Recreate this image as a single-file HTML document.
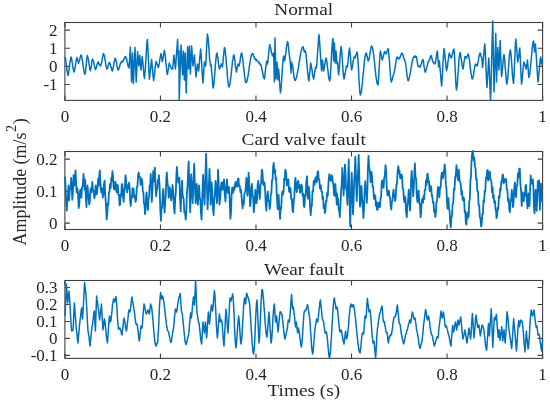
<!DOCTYPE html><html><head><meta charset="utf-8"><title>Signals</title><style>html,body{margin:0;padding:0;background:#fff}svg{display:block}text{font-family:"Liberation Serif","Times New Roman",serif;fill:#262626}</style></head><body>
<svg width="550" height="403" viewBox="0 0 550 403">
<rect width="550" height="403" fill="#fff"/>
<defs><filter id="soft" x="0" y="0" width="100%" height="100%" filterUnits="userSpaceOnUse" color-interpolation-filters="sRGB"><feGaussianBlur stdDeviation="0.35"/></filter></defs><g filter="url(#soft)">
<rect x="64.9" y="22.5" width="477.70000000000005" height="77.9" fill="none" stroke="#404040" stroke-width="1.1"/>
<path d="M64.90,100.4v-5M64.90,22.5v5M160.44,100.4v-5M160.44,22.5v5M255.98,100.4v-5M255.98,22.5v5M351.52,100.4v-5M351.52,22.5v5M447.06,100.4v-5M447.06,22.5v5M542.60,100.4v-5M542.60,22.5v5M64.9,30.1h5M542.6,30.1h-5M64.9,48.2h5M542.6,48.2h-5M64.9,66.4h5M542.6,66.4h-5M64.9,84.5h5M542.6,84.5h-5" stroke="#404040" stroke-width="1.1" fill="none"/>
<polyline points="65.0,57.0 65.5,58.6 66.0,62.7 66.5,65.6 67.0,70.6 67.5,73.1 68.0,75.4 68.5,74.0 69.0,69.8 69.5,66.8 70.0,61.8 70.5,59.1 71.0,57.0 71.5,57.9 72.0,61.6 72.5,63.9 73.0,68.1 73.5,70.1 74.0,72.0 74.5,71.1 75.0,67.7 75.5,65.5 76.0,60.9 76.5,59.3 77.0,57.6 77.5,59.3 78.1,62.0 78.6,63.4 79.1,61.4 79.6,60.6 80.0,57.9 80.5,56.7 81.0,55.0 81.5,55.7 82.0,58.4 82.5,60.7 83.0,65.2 83.5,68.0 84.0,71.7 84.5,73.2 85.0,74.4 85.5,71.8 86.0,66.9 86.4,62.8 86.9,57.8 87.4,55.4 87.9,57.4 88.4,59.1 88.9,63.3 89.4,65.7 89.9,69.7 90.4,70.6 91.0,67.8 91.5,65.2 92.0,61.0 92.6,59.0 93.1,60.6 93.6,61.2 94.1,64.6 94.6,65.9 95.1,68.9 95.6,69.4 96.1,67.9 96.6,67.1 97.0,64.2 97.5,63.8 98.0,62.0 98.5,62.1 99.0,64.0 99.6,64.3 100.1,65.7 100.6,66.0 101.1,64.2 101.6,63.0 102.1,59.5 102.6,57.5 103.1,54.3 103.6,53.6 104.1,55.1 104.6,56.3 105.1,60.1 105.5,62.5 106.0,66.5 106.5,67.6 107.0,69.0 107.5,68.4 108.0,66.1 108.4,65.1 108.9,63.2 109.4,62.4 109.9,63.8 110.4,64.1 110.9,67.2 111.4,68.2 111.9,70.4 112.4,71.0 112.9,68.7 113.4,67.0 114.0,62.5 114.5,60.7 115.0,58.4 115.5,58.5 116.0,61.1 116.5,62.5 116.9,66.1 117.4,67.2 117.9,69.7 118.4,70.0 118.9,68.5 119.4,67.6 120.0,64.6 120.5,63.7 121.0,62.4 121.5,61.5 121.9,62.5 122.4,61.6 122.9,60.5 123.5,60.8 124.0,58.5 124.5,58.4 125.1,56.6 125.6,56.6 126.1,57.7 126.6,58.7 127.1,61.7 127.5,63.0 128.0,66.0 128.5,66.8 129.0,68.0 129.5,61.4 129.9,53.6 130.4,47.0 131.0,64.9 131.6,82.0 132.1,67.0 132.6,53.0 133.0,68.7 133.4,83.4 133.9,71.1 134.5,59.8 135.0,47.6 135.6,64.6 136.2,82.0 136.7,72.1 137.1,61.3 137.6,51.4 138.2,59.2 138.8,66.0 139.3,60.1 139.8,55.4 140.4,63.3 141.0,70.0 141.6,62.7 142.2,56.6 142.8,61.9 143.3,67.2 143.8,74.3 144.4,78.4 144.9,74.0 145.4,67.8 145.9,58.7 146.4,50.4 146.9,42.7 147.4,39.4 147.9,48.8 148.4,59.1 148.9,70.8 149.4,79.4 149.9,74.7 150.5,69.6 151.1,63.5 151.6,59.4 152.1,64.7 152.6,69.7 153.1,76.1 153.6,80.6 154.1,77.0 154.6,73.9 155.0,68.4 155.5,65.0 156.0,61.6 156.5,62.3 157.0,64.2 157.4,64.8 157.9,66.8 158.4,67.4 158.9,65.1 159.4,62.9 160.0,58.3 160.5,56.0 161.0,53.6 161.5,55.8 161.9,59.5 162.4,61.6 162.9,58.8 163.4,56.2 163.9,52.7 164.4,50.4 164.9,53.3 165.4,56.8 165.9,63.0 166.4,67.2 166.9,72.5 167.4,74.4 167.9,71.5 168.4,69.4 168.9,65.0 169.4,63.0 169.9,65.1 170.5,66.0 171.0,68.0 171.5,68.9 172.1,68.3 172.6,69.0 173.1,64.8 173.5,59.3 174.0,55.0 174.5,60.2 174.9,64.1 175.4,69.0 175.9,62.9 176.5,53.5 177.1,46.5 177.6,39.4 178.1,52.8 178.6,67.0 179.0,51.0 179.2,100.0 179.6,87.6 180.1,72.1 180.6,58.7 181.0,45.0 181.5,54.3 182.1,65.5 182.6,75.0 183.0,62.7 183.4,51.0 183.9,65.7 184.4,80.0 184.8,65.9 185.2,53.0 185.7,73.2 186.2,93.0 186.7,77.1 187.1,63.0 187.6,47.0 188.1,57.5 188.6,69.0 189.0,57.8 189.4,46.0 189.9,59.4 190.4,74.0 191.0,60.7 191.6,46.0 192.1,52.1 192.5,59.8 193.0,66.0 193.5,61.9 193.9,59.0 194.4,55.0 194.9,61.9 195.5,70.3 196.0,77.0 196.5,72.2 196.9,68.6 197.4,64.0 198.0,67.2 198.6,71.0 199.1,66.5 199.6,59.6 200.1,54.4 200.6,49.0 201.1,54.0 201.6,62.5 202.0,69.5 202.5,77.9 203.0,83.0 203.5,75.7 203.9,69.4 204.4,62.0 205.0,63.3 205.6,66.0 206.1,59.0 206.5,49.6 206.9,41.9 207.4,34.0 207.9,36.4 208.5,43.2 209.0,49.3 209.5,57.8 210.1,62.5 210.6,66.0 211.2,65.0 211.6,71.0 212.1,76.1 212.6,83.3 213.0,88.0 213.5,86.0 214.0,83.1 214.5,76.7 215.0,70.8 215.5,63.4 216.0,58.8 216.5,54.1 217.0,53.0 217.5,56.0 218.0,58.4 218.4,63.3 218.9,66.1 219.4,69.0 219.9,68.2 220.4,65.9 220.9,65.6 221.4,64.0 221.9,64.8 222.4,67.0 222.9,63.2 223.4,56.9 223.9,52.3 224.4,47.4 224.9,48.7 225.4,52.7 225.9,57.4 226.4,64.5 227.0,69.9 227.5,77.4 228.0,81.6 228.5,86.0 229.0,87.0 229.5,85.4 230.0,84.0 230.5,79.6 231.0,76.1 231.5,70.7 232.0,66.6 232.5,61.2 233.0,58.9 233.5,55.4 234.0,55.0 234.5,58.1 235.0,61.1 235.4,66.2 235.9,68.7 236.4,72.0 236.9,69.6 237.5,66.1 238.0,64.0 238.5,65.3 239.0,66.0 239.5,63.7 240.0,61.7 240.4,57.7 240.9,55.4 241.4,53.0 241.9,53.4 242.4,57.2 242.9,60.4 243.4,65.6 244.0,69.9 244.5,75.5 245.0,78.6 245.5,82.1 246.0,82.6 246.5,81.6 247.0,81.3 247.5,78.0 248.0,76.4 248.5,72.7 249.0,70.1 249.4,66.0 249.9,63.5 250.4,59.7 250.9,57.6 251.4,54.7 251.9,54.4 252.4,53.4 252.9,53.7 253.4,55.9 254.0,56.5 254.5,58.4 255.0,59.0 255.5,58.7 256.0,60.5 256.5,59.6 257.0,60.6 257.5,61.3 258.1,61.2 258.6,62.0 259.1,63.2 259.6,62.8 260.1,64.8 260.6,65.0 261.1,65.1 261.6,67.7 262.0,69.1 262.5,72.5 263.0,74.2 263.4,77.1 263.9,78.1 264.4,79.0 264.9,75.4 265.5,69.3 266.1,65.3 266.6,61.0 267.0,62.0 267.4,64.0 267.9,61.5 268.4,56.0 268.8,52.3 269.3,47.3 269.8,44.6 270.3,46.7 270.8,48.5 271.4,52.4 271.9,53.7 272.4,56.0 273.0,54.9 273.6,53.0 274.0,67.1 274.4,82.0 275.0,38.0 275.5,59.0 276.0,79.0 276.5,70.0 277.0,62.0 277.5,71.5 278.0,80.0 278.6,69.0 279.1,74.3 279.5,81.2 279.9,87.0 280.4,93.0 280.9,89.9 281.5,82.5 282.0,74.7 282.5,65.7 283.1,59.9 283.6,56.0 284.0,58.1 284.4,61.0 284.9,59.8 285.5,55.3 286.0,51.9 286.5,46.5 287.1,43.8 287.6,41.6 288.1,43.7 288.6,48.4 289.0,51.7 289.5,56.6 290.0,59.0 290.5,65.4 291.0,73.0 291.6,62.0 292.1,63.9 292.6,65.2 293.1,69.7 293.5,73.0 294.0,77.3 294.5,78.8 295.0,80.6 295.5,80.4 296.0,78.4 296.5,77.7 297.0,74.6 297.5,73.0 298.0,69.5 298.5,67.4 299.0,63.0 299.5,61.1 300.0,56.7 300.5,55.0 301.0,51.4 301.5,50.1 302.0,47.8 302.5,47.4 303.0,46.6 303.5,47.8 303.9,50.7 304.4,52.0 304.8,51.0 305.2,50.6 305.7,52.3 306.1,54.7 306.6,60.8 307.1,65.3 307.6,71.9 308.1,75.6 308.5,80.0 309.0,81.0 309.5,74.7 310.1,69.3 310.6,63.0 311.1,64.3 311.6,67.7 312.1,70.5 312.6,75.0 313.1,76.9 313.6,79.0 314.1,76.5 314.6,72.6 315.1,70.0 315.6,67.0 316.0,67.2 316.4,68.0 316.9,63.4 317.4,54.9 318.0,47.5 318.5,39.1 319.0,34.6 319.5,40.5 320.0,47.9 320.6,57.6 321.1,65.1 321.6,71.0 322.0,66.0 322.4,60.0 323.0,65.0 323.6,71.0 324.1,69.4 324.6,65.5 325.0,63.5 325.5,59.7 326.0,58.0 326.5,59.8 327.0,62.1 327.5,67.4 328.1,71.6 328.6,76.9 329.1,79.0 329.6,81.0 330.1,79.0 330.6,72.1 331.1,64.8 331.5,55.1 332.0,47.4 332.5,40.8 333.0,38.6 333.6,61.0 334.0,52.6 334.4,43.0 334.8,52.7 335.2,63.0 335.6,57.6 336.0,51.0 336.5,56.9 337.0,64.0 337.6,62.0 338.1,68.9 338.6,75.0 339.1,70.0 339.6,64.9 340.0,56.9 340.5,51.6 341.0,46.6 341.5,49.2 342.0,56.1 342.5,62.2 343.0,70.7 343.5,75.1 344.0,79.0 344.5,77.6 345.0,73.9 345.6,71.2 346.1,67.6 346.6,66.0 347.2,67.0 347.7,64.5 348.2,59.2 348.6,55.4 349.1,50.5 349.6,48.0 350.1,53.5 350.6,58.6 351.1,65.5 351.6,70.0 352.1,67.7 352.6,65.7 353.0,61.7 353.5,59.7 354.0,57.0 354.5,56.9 355.0,58.0 355.5,57.2 356.0,54.7 356.5,54.0 357.0,52.0 357.5,54.0 358.0,61.0 358.5,68.4 358.9,78.7 359.4,85.8 359.9,92.8 360.4,95.0 360.9,93.4 361.4,91.9 361.9,86.6 362.4,82.8 362.9,76.3 363.5,71.5 364.0,65.3 364.5,61.0 365.0,56.5 365.5,54.8 366.0,53.0 366.5,53.6 367.0,56.3 367.4,57.5 367.9,60.1 368.4,61.0 368.9,59.4 369.5,57.3 370.0,53.2 370.5,50.6 371.1,47.1 371.6,46.0 372.1,47.1 372.6,48.2 373.1,51.5 373.6,54.3 374.1,59.3 374.6,62.6 375.0,68.1 375.5,71.8 376.0,76.7 376.5,79.3 377.0,82.9 377.5,83.9 378.0,85.0 378.5,80.2 379.0,71.6 379.4,64.5 379.9,55.7 380.4,51.0 380.9,53.5 381.4,55.0 381.9,58.6 382.4,60.0 382.9,57.5 383.5,56.2 384.1,52.9 384.6,51.4 385.1,52.6 385.5,52.9 386.0,54.0 386.5,53.4 387.0,51.0 387.5,50.4 388.0,48.6 388.5,50.2 389.0,56.0 389.5,61.2 389.9,69.5 390.4,75.0 390.9,80.3 391.4,82.0 391.9,80.2 392.4,79.0 393.0,75.9 393.5,74.7 394.0,73.0 394.5,70.9 395.0,68.8 395.5,64.6 396.0,61.9 396.5,58.2 397.0,57.0 397.5,57.9 398.0,57.4 398.5,59.1 399.0,59.0 399.5,58.0 400.0,57.9 400.5,55.6 401.0,55.0 401.5,53.4 402.0,53.0 402.5,54.1 403.0,54.7 403.5,57.6 404.0,58.2 404.5,60.7 405.0,61.0 405.5,62.3 406.0,66.9 406.5,70.2 407.0,75.6 407.5,78.1 408.0,80.6 408.5,80.7 409.0,78.4 409.5,77.1 410.0,73.9 410.5,72.1 411.0,68.2 411.5,65.8 412.0,62.4 412.5,60.8 413.0,58.0 413.5,57.8 414.0,56.6 414.5,56.1 415.0,57.2 415.4,56.0 415.9,57.2 416.4,56.6 416.9,59.2 417.5,63.5 418.0,66.0 418.5,65.7 419.0,67.0 419.5,66.3 420.0,67.0 420.5,66.7 421.0,64.4 421.5,63.7 422.0,60.8 422.5,60.7 423.0,59.4 423.5,61.6 424.0,66.3 424.5,68.5 425.0,72.0 425.5,72.0 426.0,69.9 426.5,68.9 427.0,65.9 427.5,65.1 428.0,62.2 428.5,61.8 429.0,61.0 429.5,59.1 430.0,58.6 430.5,56.2 431.0,55.4 431.5,57.1 432.0,58.2 432.5,61.1 433.0,62.0 433.5,62.0 434.0,63.4 434.5,63.0 435.0,64.0 435.5,62.2 436.0,58.6 436.4,56.6 436.9,52.5 437.4,51.0 438.0,59.4 438.6,67.0 439.0,63.5 439.4,61.0 439.9,66.9 440.5,73.2 441.1,80.9 441.6,86.0 442.1,79.5 442.6,72.2 443.0,62.5 443.5,55.1 444.0,48.6 444.5,51.4 445.0,57.2 445.6,61.9 446.1,67.9 446.6,70.6 447.1,68.4 447.5,66.1 448.0,61.2 448.5,58.6 448.9,54.6 449.4,53.0 449.9,55.2 450.5,56.0 451.0,58.0 451.5,57.6 452.0,55.2 452.5,54.1 453.0,50.9 453.5,50.3 454.0,49.0 454.5,55.1 455.0,65.2 455.4,73.9 455.9,84.2 456.4,90.0 456.9,87.6 457.4,83.2 457.9,74.8 458.5,67.7 459.0,59.6 459.5,55.4 460.0,52.6 460.5,53.6 461.0,57.4 461.5,60.3 462.0,64.7 462.5,66.7 463.0,69.0 463.5,66.6 464.0,62.1 464.5,60.0 465.0,56.6 465.5,56.6 466.1,57.9 466.6,58.0 467.1,56.2 467.5,55.6 468.0,54.0 468.5,54.7 469.0,57.7 469.5,60.1 470.0,65.0 470.4,68.3 470.9,73.1 471.4,75.3 471.9,78.4 472.4,79.0 472.9,77.4 473.5,75.4 474.0,71.0 474.5,68.3 475.1,65.1 475.6,64.0 476.1,64.9 476.5,64.8 477.0,66.0 477.5,65.4 478.0,62.1 478.5,59.7 479.0,56.0 479.5,54.9 480.0,53.0 480.5,53.7 481.0,56.5 481.5,57.3 482.0,59.0 482.5,67.5 483.0,64.3 483.4,58.3 483.9,53.5 484.3,47.6 484.8,44.0 485.4,53.9 485.9,65.3 486.4,78.4 487.0,87.5 487.4,80.2 487.9,73.1 488.4,64.4 488.8,58.0 489.4,72.3 489.9,86.2 490.5,100.5 491.0,87.9 491.4,69.7 491.9,51.6 492.3,33.4 492.8,21.0 493.4,57.2 494.0,92.0 494.4,77.5 494.9,63.0 495.4,46.7 495.8,33.5 496.5,82.0 496.9,71.1 497.4,58.6 497.8,47.5 498.4,59.1 499.0,70.0 499.6,54.8 500.2,40.5 500.6,53.2 501.1,64.1 501.5,76.5 502.0,73.8 502.5,67.7 503.0,63.0 503.5,57.2 504.0,54.5 504.5,57.9 504.9,62.6 505.4,69.8 505.9,75.4 506.3,81.2 506.8,84.0 507.3,81.7 507.8,77.7 508.3,70.0 508.8,64.0 509.3,56.5 509.8,52.2 510.3,50.0 510.8,52.4 511.4,59.3 511.9,66.4 512.4,74.7 513.0,80.2 513.5,83.5 514.0,76.5 514.4,66.1 514.9,56.5 515.3,45.7 515.8,39.0 516.3,44.8 516.8,50.0 517.3,57.2 517.8,62.0 518.3,58.3 518.8,55.7 519.3,50.6 519.8,48.0 520.4,60.1 520.9,72.0 521.5,84.0 522.0,81.3 522.5,75.2 523.0,70.6 523.5,64.9 524.0,62.0 524.5,64.0 525.1,65.0 525.7,67.7 526.2,69.0 526.6,65.6 527.1,63.4 527.5,60.0 527.9,65.5 528.4,72.3 528.8,77.5 529.3,75.9 529.8,74.2 530.2,69.1 530.7,65.3 531.2,58.7 531.7,54.4 532.2,48.5 532.6,45.6 533.1,41.9 533.6,41.0 534.1,47.2 534.6,52.0 535.0,47.4 535.4,44.0 535.9,50.3 536.4,57.9 537.0,68.1 537.5,75.8 538.0,82.0 538.5,78.7 539.0,72.3 539.6,67.0 540.1,60.5 540.6,57.0 541.1,61.0 541.6,64.0 542.0,61.1 542.4,59.0" fill="none" stroke="#0072bd" stroke-width="1.5" stroke-linejoin="round"/>
<text x="64.9" y="122.0" font-size="17" text-anchor="middle">0</text>
<text x="160.4" y="122.0" font-size="17" text-anchor="middle">0.2</text>
<text x="256.0" y="122.0" font-size="17" text-anchor="middle">0.4</text>
<text x="351.5" y="122.0" font-size="17" text-anchor="middle">0.6</text>
<text x="447.1" y="122.0" font-size="17" text-anchor="middle">0.8</text>
<text x="542.6" y="122.0" font-size="17" text-anchor="middle">1</text>
<text x="57.6" y="35.9" font-size="17" text-anchor="end">2</text>
<text x="57.6" y="54.0" font-size="17" text-anchor="end">1</text>
<text x="57.6" y="72.2" font-size="17" text-anchor="end">0</text>
<text x="57.6" y="90.3" font-size="17" text-anchor="end">-1</text>
<text transform="translate(303.7,15.3) scale(1.09,1)" font-size="17.7" text-anchor="middle">Normal</text>
<rect x="64.9" y="151.5" width="477.70000000000005" height="78.0" fill="none" stroke="#404040" stroke-width="1.1"/>
<path d="M64.90,229.5v-5M64.90,151.5v5M160.44,229.5v-5M160.44,151.5v5M255.98,229.5v-5M255.98,151.5v5M351.52,229.5v-5M351.52,151.5v5M447.06,229.5v-5M447.06,151.5v5M542.60,229.5v-5M542.60,151.5v5M64.9,159.1h5M542.6,159.1h-5M64.9,191.1h5M542.6,191.1h-5M64.9,223.1h5M542.6,223.1h-5" stroke="#404040" stroke-width="1.1" fill="none"/>
<polyline points="65.0,176.6 65.6,186.2 66.2,203.3 66.8,210.7 67.4,198.5 67.9,196.0 68.5,185.5 69.1,200.5 69.8,190.0 70.5,188.2 71.2,178.0 71.7,185.5 72.3,199.8 73.0,191.3 73.6,175.2 74.5,185.5 75.0,176.3 75.5,170.5 76.1,182.8 76.6,192.3 77.3,188.2 78.0,194.1 78.7,208.0 79.3,204.5 79.9,191.9 80.5,189.5 80.9,195.0 81.4,197.7 82.1,187.0 82.8,185.4 83.5,173.9 84.0,179.6 84.5,189.5 85.2,180.0 85.8,198.0 86.5,207.3 87.0,192.2 87.5,185.5 88.1,193.3 88.6,196.8 89.2,204.5 89.8,202.1 90.4,189.3 91.0,188.2 91.6,192.3 92.3,182.0 93.0,190.1 93.7,190.9 94.4,198.4 95.0,194.6 95.7,185.5 96.3,188.4 96.8,194.3 97.5,188.5 98.2,178.6 98.9,185.5 99.3,175.2 99.8,170.5 100.5,184.3 101.2,192.3 101.9,188.2 102.3,190.9 102.8,197.7 103.4,194.1 104.0,184.3 104.6,180.7 105.3,196.4 106.0,204.3 106.6,219.5 107.2,215.1 107.8,203.7 108.3,204.9 108.9,192.5 109.5,191.9 110.0,184.1 110.7,188.2 111.3,178.0 111.8,180.9 112.4,171.1 113.0,175.5 113.5,185.8 114.1,189.5 114.8,182.2 115.5,182.0 116.2,190.7 116.9,192.3 117.3,184.6 117.8,185.5 118.4,194.7 119.0,194.7 119.6,205.2 120.1,204.5 120.7,194.5 121.2,195.7 121.8,184.2 122.3,184.1 123.0,197.0 123.7,201.8 124.3,190.0 124.9,187.3 125.5,175.2 126.0,179.5 126.5,188.7 127.1,192.3 127.8,185.2 128.5,188.6 129.1,182.7 129.7,188.6 130.2,201.3 130.8,205.9 131.4,196.4 132.0,197.6 132.5,188.2 133.0,188.2 133.6,189.1 134.2,197.7 134.8,195.5 135.5,201.8 136.1,199.8 136.8,187.1 137.4,186.8 138.1,175.5 138.7,172.5 139.3,176.8 140.0,176.8 140.6,184.8 141.2,184.1 141.7,178.6 142.3,182.0 142.8,191.7 143.4,192.3 143.9,203.2 144.5,204.7 145.0,214.1 145.5,211.3 146.1,195.8 146.6,192.3 147.3,204.2 148.0,210.0 148.5,198.7 149.1,197.6 149.6,185.3 150.2,185.4 150.7,173.9 151.3,184.7 151.8,201.8 152.5,189.3 153.2,171.1 153.9,181.4 154.3,172.3 154.8,167.7 155.5,185.1 156.2,196.4 156.7,187.8 157.3,189.3 157.8,179.9 158.4,183.4 158.9,175.2 159.6,186.3 160.3,209.4 161.0,220.9 161.5,209.0 162.1,207.9 162.7,193.8 163.3,188.9 164.0,203.5 164.6,212.7 165.2,201.1 165.7,196.7 166.3,179.4 166.8,172.5 167.5,182.9 168.1,186.4 168.7,197.7 169.3,195.5 169.8,187.5 170.5,191.5 171.2,200.5 171.9,195.1 172.5,184.8 173.2,191.3 173.9,207.2 174.6,213.4 175.2,198.5 175.8,193.0 176.3,177.2 176.9,167.0 177.6,177.0 178.3,182.7 178.8,178.4 179.4,178.0 180.0,197.9 180.7,211.4 181.4,192.0 182.1,180.7 182.5,192.8 183.0,197.3 183.7,199.0 184.3,212.4 185.0,211.9 185.7,219.6 186.3,212.0 186.9,192.9 187.5,186.4 188.1,171.7 188.7,161.5 189.4,188.2 190.2,212.2 190.7,189.4 191.2,174.2 191.9,190.8 192.7,203.2 193.4,181.8 194.2,163.7 194.9,186.8 195.7,203.2 196.2,191.1 196.7,183.9 197.3,195.9 197.9,204.7 198.5,193.2 199.1,185.3 199.7,196.9 200.4,200.6 201.0,213.3 201.6,219.6 202.4,193.7 203.1,174.9 203.9,192.6 204.6,204.7 205.4,176.9 206.1,153.7 206.9,184.3 207.6,209.2 208.2,194.4 208.9,184.9 209.5,168.9 210.1,184.2 210.6,204.7 211.1,195.5 211.6,182.4 212.3,191.6 212.9,208.4 213.6,215.2 214.2,200.8 214.9,194.3 215.5,180.9 216.2,188.8 217.0,203.2 217.5,190.4 218.0,169.7 218.8,185.8 219.5,204.7 220.2,198.7 220.8,188.0 221.5,182.4 222.0,189.7 222.5,189.8 223.3,182.7 224.0,179.4 224.7,194.1 225.5,201.7 226.2,187.1 227.0,179.4 227.5,189.2 228.0,192.8 228.9,186.8 229.7,200.8 230.4,218.9 231.0,212.9 231.6,194.2 232.2,187.6 232.8,192.8 233.4,192.1 234.0,187.0 234.6,189.5 235.2,183.1 235.8,182.0 236.4,186.1 237.1,186.8 237.8,178.8 238.5,178.6 239.1,186.4 239.8,186.0 240.4,192.1 241.1,189.8 241.9,201.4 242.6,208.5 243.2,200.1 243.8,204.7 244.3,194.4 244.9,192.8 245.6,189.4 246.4,177.9 246.9,184.5 247.4,195.8 248.0,188.5 248.6,172.7 249.3,185.8 250.1,206.2 250.7,201.4 251.3,189.2 251.9,183.9 252.5,194.7 253.2,198.6 253.8,212.2 254.6,202.5 255.3,189.8 255.8,192.6 256.4,203.2 257.0,200.2 257.6,185.2 258.3,180.9 259.0,191.7 259.8,198.8 260.5,185.0 261.1,183.8 261.8,169.7 262.4,171.3 263.1,183.1 263.7,185.3 264.5,182.4 265.1,189.3 265.7,203.7 266.3,210.7 267.0,199.0 267.8,191.3 268.4,200.7 269.0,200.5 269.7,209.2 270.3,204.6 270.8,194.3 271.4,192.8 272.0,180.5 272.6,179.1 273.1,167.2 273.7,163.0 274.4,172.5 275.0,169.7 275.7,179.4 276.1,177.9 276.8,195.0 277.6,209.2 278.1,200.1 278.6,195.0 279.4,209.3 280.1,218.9 280.7,207.5 281.2,208.9 281.8,195.8 282.4,191.3 283.1,194.3 283.7,190.2 284.2,178.5 284.8,179.8 285.3,169.7 286.1,173.2 286.8,185.3 287.4,184.8 287.9,179.4 288.4,179.5 289.0,191.3 289.5,192.1 290.0,187.7 290.6,189.1 291.2,199.3 291.8,198.5 292.5,210.0 293.1,212.2 293.7,202.0 294.3,196.9 294.9,182.2 295.5,177.9 296.2,187.0 296.8,192.1 297.6,182.7 298.3,180.9 298.9,188.1 299.4,184.8 300.0,192.8 300.7,191.2 301.4,184.6 302.0,186.7 302.6,195.8 303.2,193.9 303.8,205.7 304.4,207.0 305.1,195.0 305.7,195.8 306.3,182.3 307.0,176.4 307.5,190.7 308.0,198.8 308.9,186.8 309.5,194.6 310.1,207.2 310.7,215.2 311.3,206.7 311.9,205.5 312.5,190.8 313.1,191.7 313.7,180.9 314.6,184.6 315.2,178.4 315.9,177.1 316.4,182.3 317.0,180.9 317.5,172.2 318.1,171.2 318.7,179.4 319.3,179.5 319.9,188.3 320.8,185.3 321.4,191.3 322.0,191.6 322.6,199.4 323.1,197.0 323.7,208.2 324.3,204.7 324.9,212.9 325.4,210.7 326.0,200.6 326.5,201.7 327.1,192.8 327.8,195.8 328.6,181.0 329.3,174.2 330.1,178.9 330.8,180.9 331.6,175.2 332.3,176.4 332.9,182.9 333.4,184.4 334.0,195.1 334.5,195.8 335.3,183.9 336.0,192.8 336.8,204.7 337.0,193.5 337.6,200.3 338.1,198.5 338.7,210.3 339.3,210.6 339.8,217.1 340.4,206.7 341.1,190.4 341.7,184.0 342.3,168.0 342.9,180.0 343.6,195.4 344.3,184.0 344.9,164.3 345.5,171.9 346.1,188.9 346.8,190.5 347.4,204.8 348.0,184.4 348.7,159.5 349.2,179.7 349.7,207.0 350.2,226.5 350.7,206.9 351.2,194.1 351.7,172.7 352.4,192.0 353.0,214.2 353.6,201.2 354.2,181.0 354.7,173.4 355.3,156.7 355.8,168.3 356.3,189.0 356.8,201.0 357.4,183.3 358.1,171.8 358.7,154.8 359.3,176.5 360.0,206.7 360.5,204.2 361.0,188.5 361.5,185.9 362.1,198.3 362.8,205.3 363.4,218.0 364.0,209.0 364.7,189.1 365.3,181.2 365.8,191.5 366.3,192.2 366.8,202.9 367.4,190.6 367.9,169.3 368.5,155.8 369.2,167.6 369.9,171.1 370.6,182.2 371.0,179.1 371.5,171.8 372.1,176.6 372.6,186.8 373.2,186.4 373.8,197.3 374.2,199.1 374.7,195.4 375.3,195.5 375.8,205.8 376.4,201.7 377.0,209.5 377.6,209.9 378.2,202.8 378.9,202.9 379.4,207.2 380.0,206.7 380.6,197.7 381.1,197.5 381.7,182.7 382.3,180.3 382.9,186.4 383.6,187.8 384.2,177.9 384.8,175.8 385.5,165.2 386.2,172.1 386.8,188.5 387.5,195.4 388.2,190.9 388.9,190.7 389.5,196.8 390.1,198.0 390.7,206.4 391.3,209.5 391.9,201.5 392.4,201.2 393.0,193.1 393.6,189.7 394.1,196.8 394.6,195.0 395.1,201.0 395.7,197.9 396.4,184.2 397.0,184.2 397.6,171.3 398.3,166.1 398.9,173.2 399.5,170.5 400.2,178.4 400.8,178.1 401.5,174.6 402.1,176.4 402.7,188.8 403.3,189.2 403.9,199.1 404.4,202.2 404.9,196.3 405.5,199.3 406.1,212.5 406.8,217.1 407.4,206.3 408.0,201.8 408.7,189.7 409.3,195.8 410.0,210.5 410.6,199.5 411.1,179.9 411.7,170.9 412.2,181.1 412.7,183.6 413.2,196.3 413.8,186.8 414.4,172.0 414.9,163.3 415.5,177.2 416.1,178.8 416.8,196.5 417.4,202.0 418.0,192.3 418.7,190.7 419.3,203.2 419.9,204.7 420.6,217.1 421.1,213.0 421.6,202.4 422.1,199.1 422.6,202.9 423.0,202.9 423.6,195.7 424.2,199.1 424.8,189.8 425.4,189.9 426.0,180.3 426.6,184.9 427.2,174.3 427.7,173.7 428.4,182.4 429.0,181.0 429.6,190.7 430.1,191.1 430.6,185.9 431.2,187.2 431.8,196.1 432.3,195.5 432.9,202.9 433.5,202.0 434.1,211.9 434.7,210.0 435.3,217.1 435.9,212.6 436.4,202.5 437.0,200.7 437.6,191.2 438.1,186.9 438.8,194.2 439.4,197.3 440.0,187.2 440.7,187.6 441.3,176.3 441.9,172.7 442.5,178.4 443.2,177.5 443.7,171.0 444.2,170.0 444.7,164.3 445.3,170.1 445.8,184.9 446.4,187.5 447.0,202.4 447.5,208.6 448.0,199.9 448.5,198.2 449.1,209.2 449.6,210.7 450.2,223.0 450.8,227.4 451.4,217.7 452.0,215.7 452.6,204.0 453.3,202.9 453.9,188.7 454.5,190.2 455.2,176.8 455.8,175.5 456.4,165.2 456.9,168.7 457.4,176.8 457.9,180.3 458.4,172.1 458.9,169.9 459.5,180.2 460.2,182.2 460.8,184.6 461.4,194.4 462.0,190.8 462.6,199.1 463.1,200.5 463.6,197.3 464.1,199.2 464.7,212.2 465.3,211.1 465.8,222.7 466.4,224.6 467.1,214.8 467.7,212.3 468.2,217.5 468.7,216.1 469.2,201.6 469.8,199.4 470.4,180.4 470.9,177.5 471.5,162.0 472.1,153.5 472.9,150.9 473.7,160.5 474.3,157.7 474.9,166.1 475.5,168.1 476.1,179.6 476.7,179.0 477.3,190.5 478.0,191.7 478.6,205.1 479.2,205.3 479.8,216.9 480.4,218.4 481.1,226.5 481.7,224.6 482.3,213.9 482.9,214.2 483.5,200.3 484.1,202.0 484.7,190.9 485.3,191.8 485.9,177.6 486.5,178.2 487.1,170.9 487.6,169.9 488.1,180.5 488.6,179.3 489.3,172.1 489.9,171.8 490.4,179.6 490.9,180.3 491.4,181.3 492.0,192.1 492.6,187.2 493.1,197.9 493.7,195.3 494.3,202.9 495.0,201.0 495.5,209.4 496.0,210.5 496.5,218.0 497.1,216.0 497.7,207.6 498.3,209.2 498.9,196.3 499.5,198.0 500.1,188.7 500.7,190.3 501.3,181.6 501.9,181.2 502.6,174.6 503.1,175.0 503.6,183.4 504.1,182.2 504.6,179.6 505.1,181.6 505.6,178.4 506.2,180.5 506.8,189.5 507.4,189.5 508.0,200.9 508.7,198.5 509.3,209.3 509.9,212.2 510.5,202.5 511.1,200.3 511.8,189.8 512.4,196.3 513.0,207.2 513.6,202.1 514.2,188.5 514.9,182.4 515.5,193.3 516.1,197.3 516.7,185.4 517.3,185.0 518.0,173.1 518.8,177.4 519.3,168.6 519.8,168.7 520.4,184.2 521.1,190.6 521.7,206.0 522.6,192.3 523.2,200.7 523.8,201.0 524.4,193.2 524.9,196.1 525.5,186.3 526.0,184.9 526.8,198.9 527.5,208.4 528.0,199.3 528.5,193.5 529.0,203.6 529.5,206.0 530.1,189.0 530.7,175.5 531.4,183.3 532.0,183.6 532.9,179.3 533.4,187.6 533.9,206.4 534.5,213.4 535.1,197.9 535.7,189.8 536.6,210.9 537.2,200.4 537.8,181.1 538.4,189.8 539.1,180.5 539.9,209.7 540.4,194.9 540.9,183.6 541.5,195.8 542.2,202.2" fill="none" stroke="#0072bd" stroke-width="1.8" stroke-linejoin="round"/>
<text x="64.9" y="251.1" font-size="17" text-anchor="middle">0</text>
<text x="160.4" y="251.1" font-size="17" text-anchor="middle">0.2</text>
<text x="256.0" y="251.1" font-size="17" text-anchor="middle">0.4</text>
<text x="351.5" y="251.1" font-size="17" text-anchor="middle">0.6</text>
<text x="447.1" y="251.1" font-size="17" text-anchor="middle">0.8</text>
<text x="542.6" y="251.1" font-size="17" text-anchor="middle">1</text>
<text x="57.6" y="164.9" font-size="17" text-anchor="end">0.2</text>
<text x="57.6" y="196.9" font-size="17" text-anchor="end">0.1</text>
<text x="57.6" y="228.9" font-size="17" text-anchor="end">0</text>
<text transform="translate(303.7,144.6) scale(1.09,1)" font-size="17.7" text-anchor="middle">Card valve fault</text>
<rect x="64.9" y="280.5" width="477.70000000000005" height="77.89999999999998" fill="none" stroke="#404040" stroke-width="1.1"/>
<path d="M64.90,358.4v-5M64.90,280.5v5M160.44,358.4v-5M160.44,280.5v5M255.98,358.4v-5M255.98,280.5v5M351.52,358.4v-5M351.52,280.5v5M447.06,358.4v-5M447.06,280.5v5M542.60,358.4v-5M542.60,280.5v5M64.9,287.5h5M542.6,287.5h-5M64.9,304.5h5M542.6,304.5h-5M64.9,321.45h5M542.6,321.45h-5M64.9,338.4h5M542.6,338.4h-5M64.9,355.4h5M542.6,355.4h-5" stroke="#404040" stroke-width="1.1" fill="none"/>
<polyline points="65.0,316.0 65.5,305.1 65.9,295.3 66.4,284.0 67.0,292.9 67.6,303.0 68.1,299.3 68.5,294.5 69.0,291.0 69.5,297.4 70.0,305.4 70.6,316.7 71.1,324.8 71.6,331.0 72.1,330.9 72.5,329.7 73.0,330.0 73.5,321.4 73.9,311.4 74.4,303.0 74.9,310.8 75.5,318.0 76.0,326.0 76.5,330.4 77.0,334.2 77.5,339.8 78.0,343.0 78.5,336.1 79.1,330.5 79.6,324.0 80.1,320.2 80.6,316.5 81.1,311.0 81.6,308.0 82.1,313.9 82.6,319.0 83.1,310.4 83.6,301.2 84.1,290.6 84.6,282.6 85.1,287.1 85.5,290.4 86.0,295.0 86.5,303.6 87.0,312.7 87.5,323.2 88.0,331.0 88.5,333.7 89.0,337.0 89.5,341.9 90.0,346.0 90.5,341.3 91.0,336.7 91.5,330.7 92.0,327.0 92.5,325.0 93.0,320.4 93.4,317.3 93.9,312.8 94.4,311.0 94.9,321.6 95.4,331.0 96.0,313.2 96.6,296.0 97.0,299.4 97.5,301.9 98.0,306.5 98.4,309.0 99.0,313.8 99.6,320.0 100.0,316.6 100.5,311.4 101.0,308.3 101.4,304.0 101.9,312.2 102.5,321.9 103.0,330.0 103.5,325.7 103.9,323.3 104.4,319.0 104.9,320.9 105.4,326.1 105.9,330.8 106.4,336.7 106.9,340.0 107.4,343.0 107.9,337.3 108.4,329.2 108.9,322.6 109.4,316.0 109.9,318.4 110.4,322.0 110.9,320.5 111.5,315.4 112.0,310.9 112.5,304.7 113.1,301.7 113.6,299.0 114.1,300.0 114.6,302.0 115.1,300.6 115.5,298.0 116.0,296.6 116.5,301.9 117.0,308.6 117.4,317.3 117.9,323.2 118.4,329.0 118.9,329.2 119.5,327.9 120.0,328.0 120.5,329.9 121.0,331.0 121.5,334.1 122.0,335.0 122.5,330.6 123.0,327.0 123.5,321.2 124.0,318.0 124.5,320.4 125.0,322.5 125.4,326.8 125.9,328.5 126.4,331.0 126.9,328.3 127.4,322.8 128.0,318.3 128.5,312.4 129.0,310.0 129.5,311.2 130.0,312.0 130.5,308.0 131.0,305.1 131.5,299.8 132.0,297.0 132.5,300.9 133.1,303.1 133.6,307.0 134.1,310.1 134.6,312.9 135.0,318.0 135.5,321.1 136.0,324.0 136.5,324.6 137.0,324.0 137.5,326.2 138.0,330.7 138.4,334.1 138.9,338.8 139.4,341.0 139.9,335.7 140.5,331.3 141.0,326.0 141.5,326.5 142.0,328.0 142.5,323.1 143.0,315.5 143.5,309.9 144.0,304.0 144.5,305.4 145.0,308.1 145.4,309.9 145.9,312.9 146.4,314.0 146.9,312.0 147.5,311.9 148.0,310.0 148.5,310.7 148.9,313.3 149.4,314.0 150.0,308.7 150.6,304.0 151.1,305.8 151.6,307.2 152.1,311.9 152.6,316.4 153.1,322.3 153.5,327.3 154.0,333.8 154.5,338.1 155.0,342.8 155.5,344.5 156.0,346.0 156.5,345.2 156.9,343.7 157.4,343.0 157.9,338.9 158.5,329.1 159.0,318.1 159.5,305.6 160.1,297.6 160.6,292.6 161.1,295.4 161.6,299.0 162.0,297.9 162.4,296.0 162.9,296.7 163.4,299.5 163.9,302.0 164.4,306.8 164.9,310.8 165.5,316.6 166.0,320.1 166.5,324.9 167.0,327.4 167.5,330.7 168.0,331.0 168.5,331.9 169.0,334.4 169.5,336.5 170.0,339.9 170.5,341.2 171.0,342.6 171.5,341.0 172.0,336.9 172.4,334.6 172.9,330.8 173.4,329.0 173.9,325.2 174.4,318.4 174.9,314.0 175.4,309.0 176.0,310.2 176.6,312.0 177.1,309.6 177.6,305.1 178.1,302.4 178.6,299.0 179.1,296.8 179.7,295.8 180.2,293.4 180.8,302.0 181.4,311.0 181.9,312.6 182.4,314.6 182.9,320.3 183.4,324.6 184.0,331.2 184.5,335.6 185.0,341.0 185.5,342.7 186.0,344.6 186.5,343.6 187.0,340.7 187.6,338.8 188.1,335.8 188.6,335.0 189.1,330.2 189.6,323.4 190.1,318.7 190.6,313.0 191.0,315.0 191.4,318.0 191.9,313.5 192.4,306.9 192.9,302.4 193.4,297.0 193.9,300.4 194.4,305.0 195.0,293.3 195.6,280.6 196.1,291.0 196.5,302.6 197.0,313.0 197.5,315.7 198.1,319.6 198.6,322.0 199.1,323.8 199.6,328.4 200.1,332.7 200.6,338.4 201.1,341.5 201.6,344.0 202.1,337.1 202.5,329.0 203.0,322.0 203.5,326.3 203.9,328.7 204.4,333.0 204.9,327.7 205.4,322.0 206.0,329.7 206.6,338.0 207.1,332.2 207.5,324.3 207.9,318.7 208.4,312.0 208.9,317.6 209.4,324.0 209.9,320.0 210.4,314.0 210.9,309.9 211.4,305.0 212.0,307.3 212.6,311.0 213.1,306.6 213.5,300.2 213.9,296.0 214.4,290.6 214.9,294.9 215.4,304.4 215.9,314.0 216.4,325.4 216.9,333.0 217.4,338.0 217.9,332.9 218.4,325.3 218.9,319.8 219.4,314.0 219.9,317.4 220.4,322.0 221.0,321.5 221.6,320.0 222.1,323.5 222.6,330.2 223.0,335.8 223.5,342.3 224.0,346.0 224.5,337.0 225.0,328.0 225.5,316.7 226.0,309.0 226.5,315.1 227.0,320.7 227.5,328.0 228.0,333.0 228.5,324.8 229.0,315.7 229.5,305.7 230.0,298.0 230.5,300.1 231.0,301.0 231.5,298.1 232.1,296.9 232.6,294.0 233.1,297.0 233.6,305.4 234.1,314.7 234.5,327.1 235.0,336.6 235.5,344.9 236.0,348.0 236.5,343.0 237.0,336.4 237.6,327.3 238.1,321.2 238.6,316.0 239.1,319.8 239.6,327.0 240.0,333.1 240.5,340.2 241.0,344.0 241.5,340.7 242.0,335.1 242.5,325.4 243.1,316.3 243.6,306.8 244.1,301.4 244.6,298.0 245.1,300.8 245.6,304.0 246.1,299.0 246.6,293.4 247.1,294.0 247.6,296.6 248.1,297.5 248.6,299.0 249.1,301.1 249.6,304.5 250.1,311.4 250.6,318.0 251.1,327.2 251.6,334.3 252.1,342.8 252.6,347.5 253.1,352.6 253.6,354.0 254.1,350.3 254.6,343.5 255.1,332.4 255.5,321.8 256.0,310.7 256.5,303.6 257.0,300.0 257.5,309.1 258.0,321.9 258.5,332.7 259.0,343.0 259.5,338.1 260.0,327.8 260.5,316.4 261.0,303.6 261.5,295.4 262.0,289.4 262.5,290.2 263.0,294.7 263.5,299.3 264.0,306.6 264.5,312.5 265.0,320.8 265.5,326.2 266.0,332.5 266.5,335.1 267.0,337.0 267.5,331.8 268.0,324.1 268.5,318.0 269.0,312.0 269.5,318.8 270.0,327.8 270.5,335.3 271.0,343.0 271.5,341.0 272.0,334.6 272.5,328.1 272.9,318.7 273.4,312.3 273.9,306.1 274.4,304.0 275.0,313.4 275.6,322.0 276.1,318.6 276.6,316.0 277.1,322.0 277.5,326.0 278.0,332.0 278.5,327.8 279.0,321.6 279.5,317.0 280.0,312.0 280.5,311.8 280.9,313.2 281.4,313.0 281.9,314.2 282.4,318.4 282.9,322.9 283.5,329.0 284.0,333.4 284.5,337.7 285.0,339.0 285.5,336.7 286.0,335.0 286.5,331.7 287.0,330.0 287.5,327.3 287.9,322.9 288.4,320.0 288.9,321.6 289.4,322.0 289.9,315.8 290.5,308.8 291.1,300.0 291.6,294.6 292.1,302.0 292.6,309.0 293.0,307.3 293.4,307.0 293.9,311.6 294.5,316.4 295.1,323.3 295.6,327.0 296.0,323.9 296.4,322.0 297.0,327.9 297.6,333.0 298.0,330.2 298.4,328.0 298.9,330.4 299.4,332.6 299.9,337.9 300.4,341.1 300.9,345.4 301.4,347.0 301.9,342.8 302.4,337.3 302.9,328.6 303.4,321.6 303.9,314.0 304.4,311.0 304.9,311.3 305.5,309.7 306.0,310.0 306.5,308.8 307.1,305.8 307.6,304.6 308.1,308.0 308.5,310.4 309.0,314.0 309.5,316.6 310.0,321.4 310.5,330.2 311.1,338.0 311.6,346.3 312.1,351.0 312.6,354.0 313.1,351.7 313.6,345.5 314.1,340.0 314.6,332.4 315.1,328.3 315.6,325.0 316.1,321.6 316.6,319.0 317.1,320.9 317.6,322.0 318.1,319.3 318.5,316.0 319.0,310.5 319.5,306.7 319.9,301.9 320.4,300.0 320.9,304.5 321.4,309.1 321.9,315.0 322.4,319.0 323.0,320.2 323.6,322.0 324.1,326.0 324.5,328.7 325.0,333.0 325.5,333.1 325.9,331.9 326.4,332.0 326.9,335.1 327.4,338.9 327.9,345.2 328.4,350.3 328.9,355.9 329.4,358.0 329.9,355.6 330.4,352.1 330.9,344.5 331.4,337.5 331.9,327.7 332.4,319.5 332.9,310.5 333.4,304.7 333.9,299.5 334.4,298.0 334.9,302.1 335.5,304.7 336.0,309.0 336.5,308.7 337.0,307.0 337.5,309.1 338.0,314.5 338.5,319.3 339.0,325.3 339.5,329.1 340.0,332.0 340.5,331.6 341.0,330.0 341.5,331.1 342.0,334.5 342.5,336.4 343.0,340.5 343.5,342.1 344.0,344.0 344.5,340.3 345.1,334.9 345.6,331.0 346.1,335.6 346.6,339.0 347.1,337.1 347.6,335.0 348.1,329.3 348.6,325.1 349.0,317.9 349.5,313.5 350.0,308.2 350.5,305.7 351.0,304.0 351.5,305.2 352.0,307.0 352.5,306.3 353.0,304.6 353.5,304.9 354.0,307.7 354.5,309.8 355.0,314.7 355.5,318.3 356.0,324.1 356.5,328.5 357.0,334.6 357.5,338.7 358.0,344.1 358.5,346.6 359.0,350.7 359.5,351.8 360.0,353.0 360.5,350.5 361.0,344.8 361.4,340.8 361.9,335.6 362.4,333.0 363.0,334.1 363.6,334.0 364.1,327.5 364.5,322.6 365.0,316.0 365.5,316.6 366.0,318.0 366.5,312.2 366.9,304.4 367.4,298.6 367.9,303.4 368.5,307.0 369.0,312.0 369.5,311.4 370.0,310.0 370.5,313.0 371.0,319.5 371.5,326.2 372.0,334.5 372.5,339.0 373.0,343.0 373.5,342.3 374.0,341.0 374.5,346.1 375.1,352.8 375.6,358.0 376.1,350.9 376.5,343.9 376.9,335.5 377.4,329.0 377.9,326.4 378.4,321.8 378.9,318.5 379.4,315.0 379.9,313.2 380.4,311.9 381.0,308.8 381.5,307.8 382.0,306.0 382.5,310.7 382.9,317.0 383.4,322.0 383.9,321.4 384.4,321.4 384.9,325.4 385.5,328.2 386.0,332.0 386.5,332.8 387.0,332.6 387.5,335.7 387.9,340.1 388.4,343.0 389.0,338.9 389.6,336.0 390.1,336.3 390.5,334.6 391.0,335.0 391.5,334.3 392.0,330.9 392.5,328.5 392.9,323.5 393.4,321.1 393.9,317.7 394.4,317.0 395.0,316.8 395.6,316.0 396.1,313.1 396.5,311.1 396.9,307.3 397.4,305.0 397.9,311.2 398.5,315.9 399.0,322.0 399.5,323.7 400.0,324.0 400.5,327.0 401.1,332.1 401.6,335.0 402.1,336.8 402.6,340.0 403.1,341.5 403.6,344.0 404.1,342.8 404.6,339.8 405.0,338.2 405.5,335.1 406.0,334.0 406.5,332.6 407.0,330.1 407.5,329.0 408.0,327.0 408.5,324.3 409.1,322.7 409.6,320.0 410.1,320.9 410.6,323.0 411.1,320.9 411.5,317.0 411.9,315.1 412.4,312.0 412.9,313.9 413.5,317.0 414.0,319.0 414.5,318.3 415.0,318.0 415.5,321.5 416.0,324.5 416.5,329.5 417.0,332.0 417.5,333.0 418.0,337.1 418.5,339.6 419.0,344.4 419.5,346.3 420.0,348.6 420.5,347.3 421.0,344.2 421.5,343.4 422.0,341.0 422.5,336.3 423.0,331.8 423.5,325.8 424.0,322.0 424.5,318.3 425.1,313.2 425.6,309.4 426.1,312.1 426.5,314.3 426.9,317.9 427.4,320.0 428.0,317.6 428.6,316.0 429.1,319.3 429.6,321.9 430.0,327.1 430.5,329.7 431.0,333.0 431.5,334.6 432.0,335.0 432.5,336.3 433.0,339.7 433.4,341.3 433.9,344.8 434.4,346.0 434.9,344.1 435.4,343.1 436.0,339.8 436.5,338.9 437.0,337.0 437.5,336.8 438.0,338.0 438.5,334.3 438.9,328.7 439.4,325.0 439.9,321.0 440.5,315.0 441.0,311.0 441.6,315.0 442.2,318.0 442.8,314.6 443.4,312.0 443.9,315.7 444.4,318.9 444.9,324.2 445.4,327.0 445.9,326.0 446.4,326.0 446.9,328.2 447.5,329.9 448.1,333.5 448.6,335.0 449.1,336.3 449.6,339.4 450.0,341.4 450.5,344.8 451.0,346.0 451.5,338.8 452.1,332.6 452.6,325.4 453.1,328.2 453.6,332.0 454.1,329.9 454.5,326.5 454.9,325.0 455.4,322.0 456.0,325.5 456.6,330.0 457.1,327.1 457.5,322.8 458.0,320.0 458.5,323.0 459.0,325.0 459.5,322.1 460.1,319.9 460.6,317.0 461.1,319.8 461.6,325.7 462.0,330.4 462.5,336.1 463.0,339.0 463.5,336.5 464.0,334.9 464.5,331.6 465.0,330.0 465.5,333.5 466.0,336.2 466.5,340.6 467.0,343.0 467.5,339.0 468.0,336.1 468.5,331.1 469.0,328.0 469.5,332.1 470.1,335.1 470.6,339.0 471.1,333.4 471.5,325.9 471.9,320.0 472.4,313.4 472.9,320.9 473.5,330.3 474.0,338.0 474.5,332.5 475.0,327.2 475.5,319.7 476.0,315.0 476.6,319.7 477.1,323.1 477.7,327.3 478.3,326.8 478.9,324.9 479.4,328.1 479.9,332.7 480.4,336.0 480.9,332.1 481.4,329.6 481.9,325.5 482.4,325.2 482.9,326.1 483.4,327.8 484.0,330.4 484.5,335.9 485.0,340.1 485.6,345.9 486.1,348.2 486.6,350.3 487.1,344.7 487.6,336.5 488.0,330.2 488.5,323.6 488.9,329.4 489.4,336.0 489.8,329.9 490.3,322.1 490.8,315.7 491.2,308.7 491.8,321.0 492.3,335.1 492.8,347.2 493.3,337.0 493.8,327.9 494.3,317.4 494.8,318.1 495.3,319.9 495.8,317.5 496.3,314.3 496.8,319.4 497.2,326.2 497.7,331.5 498.2,337.3 498.6,333.8 499.0,329.8 499.5,334.8 500.0,340.4 500.6,336.2 501.2,330.7 501.8,326.7 502.3,334.5 502.8,341.0 503.4,335.1 504.0,329.8 504.6,336.6 505.2,342.9 505.7,335.1 506.2,328.0 506.6,318.4 507.1,311.8 507.6,315.7 508.1,319.6 508.6,326.0 509.1,329.9 509.6,333.6 510.1,337.4 510.6,340.7 511.2,345.6 511.7,348.5 512.2,341.2 512.7,334.0 513.2,325.1 513.7,318.7 514.2,325.2 514.8,331.1 515.3,337.0 515.9,344.8 516.4,350.9 517.0,343.9 517.5,336.0 518.1,326.5 518.7,320.5 519.1,324.0 519.5,326.7 520.1,322.8 520.8,319.9 521.3,321.4 521.8,320.9 522.3,322.4 522.8,326.8 523.4,332.7 523.9,341.7 524.5,347.4 525.0,352.0 525.5,345.4 525.9,337.5 526.4,331.0 526.9,337.6 527.5,342.7 528.0,349.0 528.5,347.2 529.0,340.5 529.5,333.9 529.9,324.7 530.4,318.1 530.9,312.2 531.4,310.0 532.0,313.5 532.6,316.0 533.1,313.8 533.5,312.4 534.0,310.0 534.5,313.6 535.0,318.9 535.5,322.5 536.0,327.0 536.5,327.2 537.0,326.0 537.5,330.3 538.0,335.0 538.5,334.7 539.0,334.0 539.5,335.9 540.0,340.6 540.6,344.3 541.1,348.7 541.6,351.0 542.1,344.7 542.6,339.0" fill="none" stroke="#0072bd" stroke-width="1.5" stroke-linejoin="round"/>
<text x="64.9" y="380.0" font-size="17" text-anchor="middle">0</text>
<text x="160.4" y="380.0" font-size="17" text-anchor="middle">0.2</text>
<text x="256.0" y="380.0" font-size="17" text-anchor="middle">0.4</text>
<text x="351.5" y="380.0" font-size="17" text-anchor="middle">0.6</text>
<text x="447.1" y="380.0" font-size="17" text-anchor="middle">0.8</text>
<text x="542.6" y="380.0" font-size="17" text-anchor="middle">1</text>
<text x="57.6" y="293.3" font-size="17" text-anchor="end">0.3</text>
<text x="57.6" y="310.3" font-size="17" text-anchor="end">0.2</text>
<text x="57.6" y="327.2" font-size="17" text-anchor="end">0.1</text>
<text x="57.6" y="344.2" font-size="17" text-anchor="end">0</text>
<text x="57.6" y="361.2" font-size="17" text-anchor="end">-0.1</text>
<text transform="translate(304.2,274.6) scale(1.09,1)" font-size="17.7" text-anchor="middle">Wear fault</text>
<text transform="translate(303.8,396.3) scale(1.09,1)" font-size="17.7" text-anchor="middle">Times (s)</text>
<text transform="translate(25.8,245.4) rotate(-90) scale(1,1.06)" font-size="17.9" text-anchor="start">Amplitude (m/s<tspan dy="-9" dx="0.6" font-size="14.3">2</tspan><tspan dy="9" dx="0.5">)</tspan></text>
</g></svg></body></html>
